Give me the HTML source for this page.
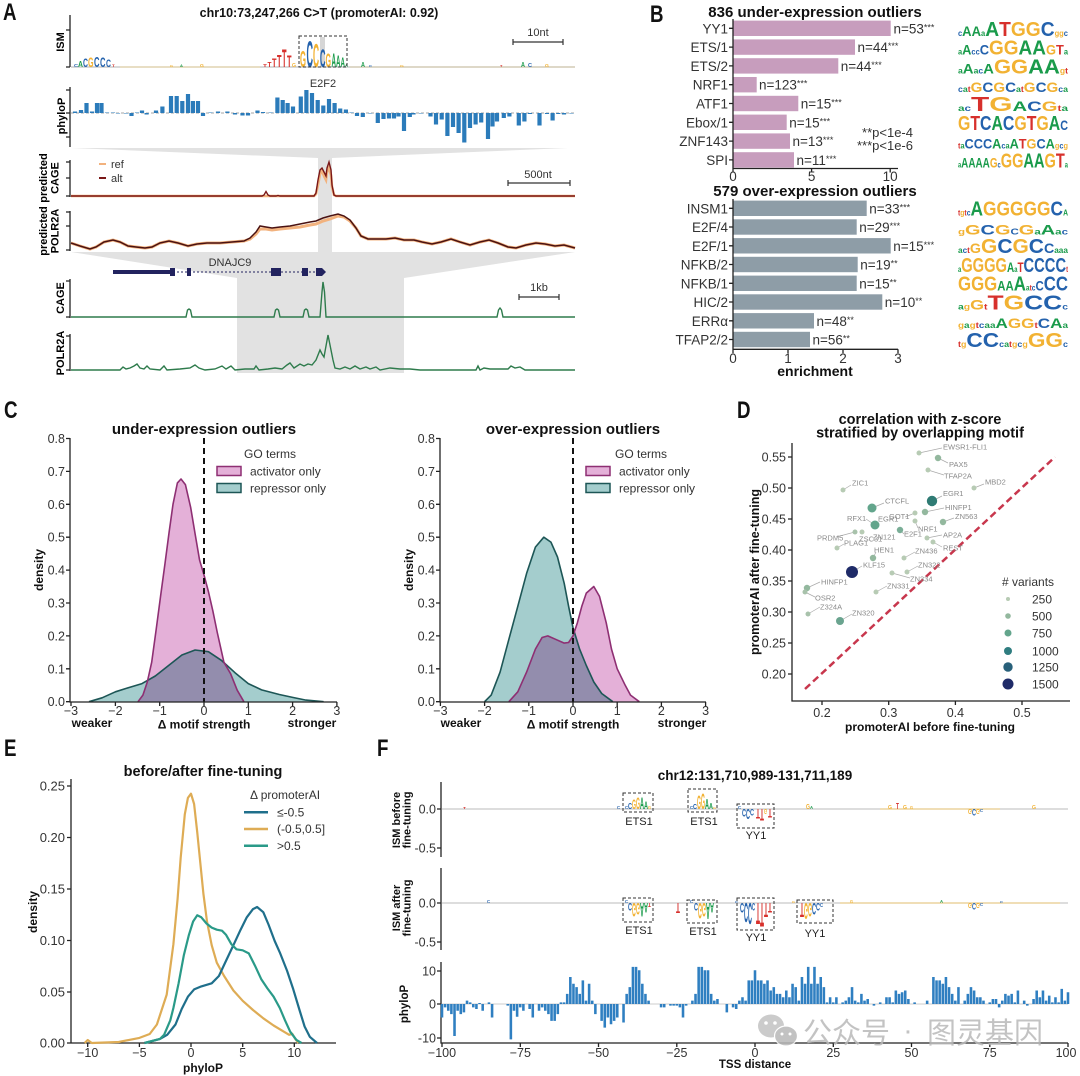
<!DOCTYPE html>
<html><head><meta charset="utf-8">
<style>
html,body{margin:0;padding:0;background:#fff;}
svg{display:block;font-family:"Liberation Sans",Arial,sans-serif;}
.b{font-weight:700}
.lg{font-size:10px;font-weight:700}
.A{fill:#1a9b4b}.C{fill:#2462ad}.G{fill:#f2b233}.T{fill:#d7302c}
.s{font-size:5.5px}.m{font-size:9.5px}.L{font-size:14px}
.ax{stroke:#222;stroke-width:1.3;fill:none}
.bl{font-size:13.5px;fill:#333}
.dl{font-size:7.5px;fill:#8a8a8a}
.ln{stroke:#aaa;stroke-width:0.7}
.mb{mix-blend-mode:multiply}
</style></head><body>
<svg width="1080" height="1076" viewBox="0 0 1080 1076" xmlns="http://www.w3.org/2000/svg">
<rect width="1080" height="1076" fill="#fff"/>

<!-- panel letters -->
<g class="b" font-size="24" fill="#111">
<text transform="translate(3,20) scale(0.78,1)">A</text>
<text transform="translate(650,22) scale(0.78,1)">B</text>
<text transform="translate(4,418) scale(0.78,1)">C</text>
<text transform="translate(737,418) scale(0.78,1)">D</text>
<text transform="translate(4,756) scale(0.78,1)">E</text>
<text transform="translate(377,756) scale(0.78,1)">F</text>
</g>

<!-- ================= PANEL A ================= -->
<text x="319" y="17" text-anchor="middle" class="b" font-size="12.5" fill="#111">chr10:73,247,266 C&gt;T (promoterAI: 0.92)</text>

<!-- grey funnels -->
<polygon points="71,148 568,148 332,158 318,158" fill="#e2e2e2"/>
<rect x="318" y="157" width="14" height="95" fill="#e2e2e2"/>
<polygon points="71,252 575,252 404,278 237,278" fill="#e2e2e2"/>
<rect x="237" y="277" width="167" height="96" fill="#e2e2e2"/>

<!-- ISM track -->
<rect x="320" y="37" width="5" height="30" fill="#d6d6d6"/>
<line x1="71" y1="67" x2="575" y2="67" stroke="#b0b0b0" stroke-width="1"/>
<g stroke-width="1.2">
<line x1="120" y1="67" x2="260" y2="67" stroke="#d9c9a0"/>
<line x1="350" y1="67" x2="575" y2="67" stroke="#c9c0a8"/>
</g>
<path class="ax" d="M70 15V67M66 30H70M66 67H70"/>
<text transform="translate(64,42) rotate(-90)" text-anchor="middle" class="b" font-size="11">ISM</text>
<g class="lg">
<text class="C" transform="translate(74,67) scale(0.55,0.41)">C</text>
<text class="A" transform="translate(78,67) scale(0.69,0.82)">A</text>
<text class="C" transform="translate(83,67) scale(0.69,1.23)">C</text>
<text class="G" transform="translate(88,67) scale(0.71,1.37)">G</text>
<text class="C" transform="translate(94,67) scale(0.76,1.51)">C</text>
<text class="C" transform="translate(100,67) scale(0.76,1.37)">C</text>
<text class="C" transform="translate(106,67) scale(0.69,1.1)">C</text>
<text class="T" transform="translate(112,67) scale(0.45,0.35)">T</text>
<text class="T" transform="translate(263,67) scale(0.65,0.41)">T</text>
<text class="T" transform="translate(267.5,67) scale(0.65,0.69)">T</text>
<text class="T" transform="translate(272,67) scale(0.74,1.23)">T</text>
<text class="T" transform="translate(277,67) scale(0.74,1.78)">T</text>
<text class="T" transform="translate(282,67) scale(0.74,2.47)">T</text>
<text class="T" transform="translate(287,67) scale(0.74,1.65)">T</text>
<text class="G" transform="translate(292,67) scale(0.51,0.55)">G</text>
<text class="G" transform="translate(300,67) scale(0.77,2.33)">G</text>
<text class="C" transform="translate(306.5,67) scale(0.9,3.7)">C</text>
<text class="G" transform="translate(313,67) scale(0.84,3.29)">C</text>
<text class="C" transform="translate(320,67) scale(0.76,2.47)">C</text>
<text class="G" transform="translate(325.5,67) scale(0.71,1.92)">G</text>
<text class="A" transform="translate(331.5,67) scale(0.62,1.92)">A</text>
<text class="A" transform="translate(336,67) scale(0.62,1.65)">A</text>
<text class="A" transform="translate(340.5,67) scale(0.62,1.37)">A</text>
<text class="A" transform="translate(345,67) scale(0.42,0.41)">A</text>
<text class="A" transform="translate(361,67) scale(0.55,0.69)">A</text>
<text class="C" transform="translate(369,67) scale(0.42,0.3)">C</text>
<text class="A" transform="translate(521,67) scale(0.55,0.69)">A</text>
<text class="C" transform="translate(528,67) scale(0.55,0.55)">C</text>
<text class="G" transform="translate(170,67) scale(0.4,0.3)">G</text>
<text class="A" transform="translate(180,67) scale(0.4,0.4)">A</text>
<text class="G" transform="translate(200,67) scale(0.5,0.45)">G</text>
<text class="G" transform="translate(400,67) scale(0.5,0.3)">G</text>
<text class="T" transform="translate(500,67) scale(0.4,0.3)">T</text>
<text class="G" transform="translate(545,67) scale(0.5,0.45)">G</text>
</g>
<rect x="299" y="36" width="48" height="31" fill="none" stroke="#333" stroke-width="1" stroke-dasharray="3,2"/>
<text x="323" y="87" text-anchor="middle" font-size="11" fill="#333">E2F2</text>
<path d="M513 42H563M513 39V45M563 39V45" stroke="#333" stroke-width="1.2" fill="none"/>
<text x="538" y="36" text-anchor="middle" font-size="11" fill="#333">10nt</text>

<!-- phyloP track A -->
<line x1="71" y1="113" x2="575" y2="113" stroke="#888" stroke-width="0.8" stroke-dasharray="3,2"/>
<path class="ax" d="M70 87V147M66 90H70M66 113H70M66 137H70"/>
<text transform="translate(65,116) rotate(-90)" text-anchor="middle" class="b" font-size="11">phyloP</text>
<path stroke="#2b7bba" stroke-width="4.2" fill="none" d="M75 113v-1.5M81 113v-3M86.5 113v-10M92 113v-1.5M97 113v-10M101.5 113v-10M107 113v-0.5M113 113v-0.5M118 113v0.5M126 113v0.5M131.5 113v3M137 113v-0.5M142 113v-2.5M146.6 113v1.5M156 113v-2.5M162.4 113v-6.5M171 113v-17M176.7 113v-17M182.3 113v-12M188 113v-19M192.9 113v-12M198 113v-12M203 113v3M210.5 113v-0.5M218 113v-1.5M227.4 113v-1.5M235 113v1.5M242.5 113v2.5M248 113v2.5M257.5 113v-2.5M263 113v-1M270.7 113v-0.5M277.4 113v-15.5M282.7 113v-13M287.6 113v-10M293 113v-6.5M300.8 113v-16.5M306.4 113v-23M312 113v-20M317.7 113v-13M323.3 113v-7.5M329 113v-14M334.6 113v-10M340.2 113v-4.5M345.9 113v-3.5M351.5 113v-0.5M357 113v3M362.8 113v4M370.3 113v0.5M377.8 113v10M383.5 113v6M389 113v5.5M394 113v5.5M398.5 113v3.5M404 113v18M409.8 113v4M413.5 113v1.5M421 113v0.5M430.5 113v3.5M436 113v11.5M441.7 113v6.5M447.4 113v23M453 113v14M458.6 113v20M464.3 113v29.5M470 113v15M475.6 113v11.5M481.2 113v9.5M488 113v26M492.5 113v13.5M497 113v8.5M503.8 113v5M509.4 113v3.5M518.8 113v12.5M524.4 113v8.5M530 113v1M539.5 113v12.5M547 113v1M552.6 113v7.5M558.3 113v1M564 113v1.5M571.4 113v0.5"/>

<!-- predicted CAGE -->
<path class="ax" d="M70 160V197M66 162H70M66 178H70M66 196H70"/>
<text transform="translate(47,178) rotate(-90)" text-anchor="middle" class="b" font-size="11">predicted</text>
<text transform="translate(58.5,178) rotate(-90)" text-anchor="middle" class="b" font-size="11">CAGE</text>
<path d="M71 196H314L316 194L318 185L320 174L322 171L324 176L326 180L327 172L329 168L331 175L332 187L334 195L336 196H575" stroke="#f2b27e" stroke-width="2.6" fill="none"/>
<path d="M71 196H262L264 195L266 191.5L268 195L270 196H276L278 195.5L280 196H314L316 193L318 180L320 170L322 168L324 172L326 176L327 168L329 162L331 170L332 185L334 195L336 196H575" stroke="#7a1717" stroke-width="1.4" fill="none"/>
<line x1="99" y1="164" x2="106" y2="164" stroke="#f2b27e" stroke-width="2"/>
<line x1="99" y1="178" x2="106" y2="178" stroke="#7a1717" stroke-width="2"/>
<text x="111" y="168" font-size="11" fill="#333">ref</text>
<text x="111" y="182" font-size="11" fill="#333">alt</text>
<path d="M508 183H570M508 180V186M570 180V186" stroke="#333" stroke-width="1.2" fill="none"/>
<text x="538" y="178" text-anchor="middle" font-size="11" fill="#333">500nt</text>

<!-- predicted POLR2A -->
<path class="ax" d="M70 211V251M66 212H70M66 226H70M66 250H70"/>
<text transform="translate(47,231) rotate(-90)" text-anchor="middle" class="b" font-size="11">predicted</text>
<text transform="translate(58.5,231) rotate(-90)" text-anchor="middle" class="b" font-size="11">POLR2A</text>
<path d="M71 243L80 246L90 249L96 247L104 242L113 240L120 242L128 246L136 247L145 248L152 247L160 243L169 241L178 243L188 246L197 244L207 243L220 243L232 242L244 241L250 239L256 234L260 229L266 229L272 230L280 229L290 228L300 227L310 225L316 224L323 221L330 219L338 216L344 217L350 221L356 228L361 236L368 239L376 239L386 239L395 238L404 240L414 240L422 242L432 244L441 242L451 239L460 242L470 245L480 242L489 240L498 243L508 247L516 248L526 245L536 243L545 244L555 246L564 245L575 248" stroke="#f2b27e" stroke-width="3" fill="none"/>
<path d="M71 243L80 246L90 249L96 247L104 242L113 240L120 242L128 246L136 247L145 248L152 247L160 243L169 241L178 243L188 246L197 244L207 243L220 243L232 242L244 241L250 238L256 232L260 226L266 227L272 228L280 227L290 226L300 224L310 222L316 221L323 218L330 216L338 214L344 216L350 220L356 228L361 236L368 239L376 239L386 239L395 238L404 240L414 240L422 242L432 244L441 242L451 239L460 242L470 245L480 242L489 240L498 243L508 247L516 248L526 245L536 243L545 244L555 246L564 245L575 248" stroke="#4a1212" stroke-width="1.5" fill="none"/>

<!-- gene -->
<line x1="113" y1="272" x2="323" y2="272" stroke="#22235f" stroke-width="1" stroke-dasharray="2,2"/>
<g fill="#22235f">
<rect x="113" y="270" width="58" height="4"/>
<rect x="170" y="268" width="5" height="8"/>
<rect x="187" y="268" width="4" height="8"/>
<rect x="271" y="268" width="10" height="8"/>
<rect x="302" y="268" width="6" height="8"/>
<rect x="316" y="268" width="6" height="8"/>
<polygon points="322,268 326,272 322,276"/>
</g>
<text x="230" y="266" text-anchor="middle" font-size="11" fill="#333">DNAJC9</text>

<!-- CAGE -->
<path class="ax" d="M70 279V318M66 281H70M66 317H70"/>
<text transform="translate(64,298) rotate(-90)" text-anchor="middle" class="b" font-size="11">CAGE</text>
<path d="M71 317H186L187.5 310L189 309L190.5 310L192 317H274L275.5 310L277 309L278.5 310L280 317H303L304.5 310L306 309L307.5 310L309 317H320L322 292L323 282L324.5 292L326 317H497L498.5 310L500 308L501.5 310L503 317H575" stroke="#2e7b4c" stroke-width="1.4" fill="none"/>
<path d="M519 297H559M519 294V300M559 294V300" stroke="#333" stroke-width="1.2" fill="none"/>
<text x="539" y="291" text-anchor="middle" font-size="11" fill="#333">1kb</text>

<!-- POLR2A -->
<path class="ax" d="M70 334V371M66 336H70M66 370H70"/>
<text transform="translate(64,353) rotate(-90)" text-anchor="middle" class="b" font-size="11">POLR2A</text>
<path d="M71 370L120 370L123 367L126 369L130 368L134 366L137 364L140 368L144 369L147 366L150 369L160 370L164 366L167 370L180 369L190 368L195 365L199 368L205 370L215 369L222 366L226 369L231 366L235 370L245 369L254 369L256 366L259 370L268 369L275 368L282 369L287 365L290 363L294 368L300 364L304 366L308 364L312 365L316 360L320 350L322 354L324 357L326 346L328 335L330 345L333 360L335 368L340 369L345 367L350 369L355 366L360 369L366 367L370 369L376 367L380 370L390 368L400 369L410 369L420 370L476 370L478 366L480 370L484 368L490 369L508 369L511 366L515 368L520 367L525 370L575 370" stroke="#2e7b4c" stroke-width="1.4" fill="none"/>

<!-- ================= PANEL B ================= -->
<text x="815" y="17" text-anchor="middle" class="b" font-size="15" fill="#111">836 under-expression outliers</text>
<g fill="#c79dbd">
<rect x="733" y="20.6" width="157.7" height="15.4"/>
<rect x="733" y="39.4" width="122" height="15.4"/>
<rect x="733" y="58.2" width="105.3" height="15.4"/>
<rect x="733" y="77" width="23.7" height="15.4"/>
<rect x="733" y="95.8" width="65.3" height="15.4"/>
<rect x="733" y="114.6" width="53.7" height="15.4"/>
<rect x="733" y="133.4" width="57" height="15.4"/>
<rect x="733" y="152.2" width="61" height="15.4"/>
</g>
<path class="ax" d="M733 19V168.5H898M729 28.3H733M729 47.1H733M729 65.9H733M729 84.7H733M729 103.5H733M729 122.3H733M729 141.1H733M729 159.9H733M733 168.5V172.5M811.6 168.5V172.5M890.2 168.5V172.5"/>
<g class="bl" text-anchor="end">
<text x="728" y="33.3">YY1</text>
<text x="728" y="52.1">ETS/1</text>
<text x="728" y="70.9">ETS/2</text>
<text x="728" y="89.7">NRF1</text>
<text x="728" y="108.5">ATF1</text>
<text x="728" y="127.3">Ebox/1</text>
<text x="728" y="146.1">ZNF143</text>
<text x="728" y="164.9">SPI</text>
</g>
<g class="bl">
<text x="893.5" y="33.3">n=53<tspan font-size="9" dy="-3">***</tspan></text>
<text x="857.5" y="52.1">n=44<tspan font-size="9" dy="-3">***</tspan></text>
<text x="840.8" y="70.9">n=44<tspan font-size="9" dy="-3">***</tspan></text>
<text x="759" y="89.7">n=123<tspan font-size="9" dy="-3">***</tspan></text>
<text x="800.8" y="108.5">n=15<tspan font-size="9" dy="-3">***</tspan></text>
<text x="789.2" y="127.3">n=15<tspan font-size="9" dy="-3">***</tspan></text>
<text x="792.5" y="146.1">n=13<tspan font-size="9" dy="-3">***</tspan></text>
<text x="796.5" y="164.9">n=11<tspan font-size="9" dy="-3">***</tspan></text>
</g>
<g class="bl" text-anchor="middle">
<text x="733" y="181">0</text><text x="811.6" y="181">5</text><text x="890.2" y="181">10</text>
</g>
<text x="913" y="137" text-anchor="end" font-size="13" fill="#333">**p&lt;1e-4</text>
<text x="913" y="150" text-anchor="end" font-size="13" fill="#333">***p&lt;1e-6</text>

<text x="815" y="196" text-anchor="middle" class="b" font-size="15" fill="#111">579 over-expression outliers</text>
<g fill="#8e9da7">
<rect x="733" y="200.6" width="133.7" height="15.4"/>
<rect x="733" y="219.3" width="123.7" height="15.4"/>
<rect x="733" y="238.1" width="157.7" height="15.4"/>
<rect x="733" y="256.8" width="124.7" height="15.4"/>
<rect x="733" y="275.6" width="123.7" height="15.4"/>
<rect x="733" y="294.3" width="149.3" height="15.4"/>
<rect x="733" y="313.1" width="81" height="15.4"/>
<rect x="733" y="331.8" width="77" height="15.4"/>
</g>
<path class="ax" d="M733 199V349.3H898M729 208.3H733M729 227H733M729 245.8H733M729 264.5H733M729 283.3H733M729 302H733M729 320.8H733M729 339.5H733M733 349.3V353.3M788 349.3V353.3M843 349.3V353.3M898 349.3V353.3"/>
<g class="bl" text-anchor="end">
<text x="728" y="213.3">INSM1</text>
<text x="728" y="232">E2F/4</text>
<text x="728" y="250.8">E2F/1</text>
<text x="728" y="269.5">NFKB/2</text>
<text x="728" y="288.3">NFKB/1</text>
<text x="728" y="307">HIC/2</text>
<text x="728" y="325.8">ERRα</text>
<text x="728" y="344.5">TFAP2/2</text>
</g>
<g class="bl">
<text x="869.2" y="213.3">n=33<tspan font-size="9" dy="-3">***</tspan></text>
<text x="859.2" y="232">n=29<tspan font-size="9" dy="-3">***</tspan></text>
<text x="893.2" y="250.8">n=15<tspan font-size="9" dy="-3">***</tspan></text>
<text x="860.2" y="269.5">n=19<tspan font-size="9" dy="-3">**</tspan></text>
<text x="859.2" y="288.3">n=15<tspan font-size="9" dy="-3">**</tspan></text>
<text x="884.8" y="307">n=10<tspan font-size="9" dy="-3">**</tspan></text>
<text x="816.5" y="325.8">n=48<tspan font-size="9" dy="-3">**</tspan></text>
<text x="812.5" y="344.5">n=56<tspan font-size="9" dy="-3">**</tspan></text>
</g>
<g class="bl" text-anchor="middle">
<text x="733" y="363">0</text><text x="788" y="363">1</text><text x="843" y="363">2</text><text x="898" y="363">3</text>
</g>
<text x="815" y="376" text-anchor="middle" class="b" font-size="14" fill="#111">enrichment</text>

<!-- B logos -->
<g font-weight="700">
<text transform="translate(958,35.8) scale(1,1.45)" textLength="110" lengthAdjust="spacingAndGlyphs"><tspan class="C s">c</tspan><tspan class="A m">A</tspan><tspan class="A m">A</tspan><tspan class="A s">a</tspan><tspan class="A L">A</tspan><tspan class="T L">T</tspan><tspan class="G L">G</tspan><tspan class="G L">G</tspan><tspan class="C L">C</tspan><tspan class="G s">g</tspan><tspan class="G s">g</tspan><tspan class="C s">c</tspan></text>
<text transform="translate(958,54.6) scale(1,1.45)" textLength="110" lengthAdjust="spacingAndGlyphs"><tspan class="A s">a</tspan><tspan class="A m">A</tspan><tspan class="C s">c</tspan><tspan class="C s">c</tspan><tspan class="C m">C</tspan><tspan class="G L">G</tspan><tspan class="G L">G</tspan><tspan class="A L">A</tspan><tspan class="A L">A</tspan><tspan class="G m">G</tspan><tspan class="T m">T</tspan><tspan class="A s">a</tspan></text>
<text transform="translate(958,73.4) scale(1,1.45)" textLength="110" lengthAdjust="spacingAndGlyphs"><tspan class="A s">a</tspan><tspan class="A m">A</tspan><tspan class="A s">a</tspan><tspan class="C s">c</tspan><tspan class="A m">A</tspan><tspan class="G L">G</tspan><tspan class="G L">G</tspan><tspan class="A L">A</tspan><tspan class="A L">A</tspan><tspan class="G s">g</tspan><tspan class="T s">t</tspan></text>
<text transform="translate(958,92.2) scale(1,1.45)" textLength="110" lengthAdjust="spacingAndGlyphs"><tspan class="C s">c</tspan><tspan class="A s">a</tspan><tspan class="T s">t</tspan><tspan class="G m">G</tspan><tspan class="C m">C</tspan><tspan class="G m">G</tspan><tspan class="C m">C</tspan><tspan class="A s">a</tspan><tspan class="T s">t</tspan><tspan class="G m">G</tspan><tspan class="C m">C</tspan><tspan class="G m">G</tspan><tspan class="C s">c</tspan><tspan class="A s">a</tspan></text>
<text transform="translate(958,111) scale(1,1.45)" textLength="110" lengthAdjust="spacingAndGlyphs"><tspan class="A s">a</tspan><tspan class="C s">c</tspan><tspan class="T L">T</tspan><tspan class="G L">G</tspan><tspan class="A m">A</tspan><tspan class="C m">C</tspan><tspan class="G m">G</tspan><tspan class="T s">t</tspan><tspan class="A s">a</tspan></text>
<text transform="translate(958,129.8) scale(1,1.45)" textLength="110" lengthAdjust="spacingAndGlyphs"><tspan class="G L">G</tspan><tspan class="T L">T</tspan><tspan class="C L">C</tspan><tspan class="A L">A</tspan><tspan class="C L">C</tspan><tspan class="G L">G</tspan><tspan class="T L">T</tspan><tspan class="G L">G</tspan><tspan class="A L">A</tspan><tspan class="C m">C</tspan></text>
<text transform="translate(958,148.6) scale(1,1.45)" textLength="110" lengthAdjust="spacingAndGlyphs"><tspan class="T s">t</tspan><tspan class="A s">a</tspan><tspan class="C m">C</tspan><tspan class="C m">C</tspan><tspan class="C m">C</tspan><tspan class="A m">A</tspan><tspan class="C s">c</tspan><tspan class="A s">a</tspan><tspan class="A m">A</tspan><tspan class="T m">T</tspan><tspan class="G m">G</tspan><tspan class="C m">C</tspan><tspan class="A m">A</tspan><tspan class="G s">g</tspan><tspan class="C s">c</tspan><tspan class="G s">g</tspan></text>
<text transform="translate(958,167.4) scale(1,1.45)" textLength="110" lengthAdjust="spacingAndGlyphs"><tspan class="A s">a</tspan><tspan class="A m">A</tspan><tspan class="A m">A</tspan><tspan class="A m">A</tspan><tspan class="A m">A</tspan><tspan class="G m">G</tspan><tspan class="C s">c</tspan><tspan class="G L">G</tspan><tspan class="G L">G</tspan><tspan class="A L">A</tspan><tspan class="A L">A</tspan><tspan class="G L">G</tspan><tspan class="T L">T</tspan><tspan class="A s">a</tspan></text>

<text transform="translate(958,215.5) scale(1,1.45)" textLength="110" lengthAdjust="spacingAndGlyphs"><tspan class="T s">t</tspan><tspan class="G s">g</tspan><tspan class="T s">t</tspan><tspan class="C s">c</tspan><tspan class="A L">A</tspan><tspan class="G L">G</tspan><tspan class="G L">G</tspan><tspan class="G L">G</tspan><tspan class="G L">G</tspan><tspan class="G L">G</tspan><tspan class="C L">C</tspan><tspan class="A s">A</tspan></text>
<text transform="translate(958,234.3) scale(1,1.45)" textLength="110" lengthAdjust="spacingAndGlyphs"><tspan class="G s">g</tspan><tspan class="G m">G</tspan><tspan class="C m">C</tspan><tspan class="G m">G</tspan><tspan class="C s">C</tspan><tspan class="G m">G</tspan><tspan class="A s">a</tspan><tspan class="A m">A</tspan><tspan class="A s">a</tspan><tspan class="C s">c</tspan></text>
<text transform="translate(958,253) scale(1,1.45)" textLength="110" lengthAdjust="spacingAndGlyphs"><tspan class="A s">a</tspan><tspan class="C s">c</tspan><tspan class="T s">t</tspan><tspan class="G m">G</tspan><tspan class="G L">G</tspan><tspan class="C L">C</tspan><tspan class="G L">G</tspan><tspan class="C L">C</tspan><tspan class="C m">C</tspan><tspan class="A s">a</tspan><tspan class="A s">a</tspan><tspan class="A s">a</tspan></text>
<text transform="translate(958,271.8) scale(1,1.45)" textLength="110" lengthAdjust="spacingAndGlyphs"><tspan class="A s">a</tspan><tspan class="G L">G</tspan><tspan class="G L">G</tspan><tspan class="G L">G</tspan><tspan class="G L">G</tspan><tspan class="A m">A</tspan><tspan class="A s">a</tspan><tspan class="T m">T</tspan><tspan class="C L">C</tspan><tspan class="C L">C</tspan><tspan class="C L">C</tspan><tspan class="C L">C</tspan><tspan class="T s">t</tspan></text>
<text transform="translate(958,290.5) scale(1,1.45)" textLength="110" lengthAdjust="spacingAndGlyphs"><tspan class="G L">G</tspan><tspan class="G L">G</tspan><tspan class="G L">G</tspan><tspan class="A m">A</tspan><tspan class="A m">A</tspan><tspan class="A L">A</tspan><tspan class="A s">a</tspan><tspan class="T s">t</tspan><tspan class="C s">c</tspan><tspan class="C m">C</tspan><tspan class="C L">C</tspan><tspan class="C L">C</tspan></text>
<text transform="translate(958,309.3) scale(1,1.45)" textLength="110" lengthAdjust="spacingAndGlyphs"><tspan class="A s">a</tspan><tspan class="G s">g</tspan><tspan class="G m">G</tspan><tspan class="T s">t</tspan><tspan class="T L">T</tspan><tspan class="G L">G</tspan><tspan class="C L">C</tspan><tspan class="C L">C</tspan><tspan class="C s">c</tspan></text>
<text transform="translate(958,328) scale(1,1.45)" textLength="110" lengthAdjust="spacingAndGlyphs"><tspan class="G s">g</tspan><tspan class="A s">a</tspan><tspan class="G s">g</tspan><tspan class="T s">t</tspan><tspan class="C s">c</tspan><tspan class="A s">a</tspan><tspan class="A s">a</tspan><tspan class="A m">A</tspan><tspan class="G m">G</tspan><tspan class="G m">G</tspan><tspan class="T s">t</tspan><tspan class="C m">C</tspan><tspan class="A m">A</tspan><tspan class="A s">a</tspan></text>
<text transform="translate(958,346.8) scale(1,1.45)" textLength="110" lengthAdjust="spacingAndGlyphs"><tspan class="T s">t</tspan><tspan class="G s">g</tspan><tspan class="C L">C</tspan><tspan class="C L">C</tspan><tspan class="C s">c</tspan><tspan class="A s">a</tspan><tspan class="T s">t</tspan><tspan class="G s">g</tspan><tspan class="C s">c</tspan><tspan class="G s">g</tspan><tspan class="G L">G</tspan><tspan class="G L">G</tspan><tspan class="C s">c</tspan></text>
</g>

<!-- ================= PANEL C ================= -->
<!-- left -->
<text x="204" y="434" text-anchor="middle" class="b" font-size="15" fill="#111">under-expression outliers</text>
<path class="mb" fill="#a4cdcd" d="M89 701.7L102.1 697.8L115.4 691.8L128.7 687.6L142 683.6L155.3 676L168.6 665.5L181.9 655L195.1 650L208.4 651.7L221.7 660.6L235 672.7L248.3 683.6L261.6 689.9L279.3 694.5L292.6 697.4L305.9 700.1L323.6 701.7Z"/>
<path class="mb" fill="#e4b0d8" d="M138 701.7L142.9 695.1L147.3 682L151.7 662.2L156.2 629.3L160.6 596L165 563.5L169 533L173 504.3L177.4 482.9L181 479L185.4 484.6L190.7 507.6L195.1 533.9L199.6 560.2L204 575L208.4 591.5L212.9 611.2L217.3 632.6L223.9 662.2L230.6 673.7L237.2 690.2L243.9 701.7Z"/>
<path fill="none" stroke="#1d5656" stroke-width="1.6" stroke-linejoin="round" d="M89 701.7L102.1 697.8L115.4 691.8L128.7 687.6L142 683.6L155.3 676L168.6 665.5L181.9 655L195.1 650L208.4 651.7L221.7 660.6L235 672.7L248.3 683.6L261.6 689.9L279.3 694.5L292.6 697.4L305.9 700.1L323.6 701.7"/>
<path fill="none" stroke="#8e2f73" stroke-width="1.6" stroke-linejoin="round" d="M138 701.7L142.9 695.1L147.3 682L151.7 662.2L156.2 629.3L160.6 596L165 563.5L169 533L173 504.3L177.4 482.9L181 479L185.4 484.6L190.7 507.6L195.1 533.9L199.6 560.2L204 575L208.4 591.5L212.9 611.2L217.3 632.6L223.9 662.2L230.6 673.7L237.2 690.2L243.9 701.7"/>
<line x1="204" y1="438" x2="204" y2="702" stroke="#111" stroke-width="2" stroke-dasharray="6,4"/>
<path class="ax" d="M70 438V702H337M66 438.5H70M66 471.4H70M66 504.3H70M66 537.2H70M66 570.1H70M66 603H70M66 635.9H70M66 668.8H70M66 701.7H70M71 702V706M115.4 702V706M159.7 702V706M204 702V706M248.3 702V706M292.6 702V706M336.9 702V706"/>
<g font-size="12.5" fill="#333" text-anchor="end">
<text x="65" y="443">0.8</text><text x="65" y="476">0.7</text><text x="65" y="509">0.6</text><text x="65" y="541.7">0.5</text><text x="65" y="574.6">0.4</text><text x="65" y="607.5">0.3</text><text x="65" y="640.4">0.2</text><text x="65" y="673.3">0.1</text><text x="65" y="706.2">0.0</text>
</g>
<g font-size="12.5" fill="#333" text-anchor="middle">
<text x="71" y="715">−3</text><text x="115.4" y="715">−2</text><text x="159.7" y="715">−1</text><text x="204" y="715">0</text><text x="248.3" y="715">1</text><text x="292.6" y="715">2</text><text x="336.9" y="715">3</text>
</g>
<g class="b" font-size="12" fill="#111" text-anchor="middle">
<text x="92" y="727">weaker</text><text x="204" y="728.5">Δ motif strength</text><text x="312" y="727">stronger</text>
</g>
<text transform="translate(43,570) rotate(-90)" text-anchor="middle" class="b" font-size="12" fill="#111">density</text>
<text x="270" y="458" text-anchor="middle" font-size="12" fill="#333">GO terms</text>
<rect x="217" y="466.5" width="24" height="9" fill="#e4b0d8" stroke="#8e2f73" stroke-width="1.5"/>
<rect x="217" y="483.5" width="24" height="9" fill="#a4cdcd" stroke="#1d5656" stroke-width="1.5"/>
<text x="250" y="475.5" font-size="12" fill="#333">activator only</text>
<text x="250" y="492.5" font-size="12" fill="#333">repressor only</text>

<!-- right -->
<text x="573" y="434" text-anchor="middle" class="b" font-size="15" fill="#111">over-expression outliers</text>
<path class="mb" fill="#a4cdcd" d="M484.6 701.7L491.2 695.1L500.1 672.1L508.9 639.2L517.8 606.3L526.6 573.4L535.4 547.1L543.8 537.2L550.9 542.1L557.5 557L564.2 583.3L568.6 606.3L573 627.7L579.6 649.1L586.3 665.5L593.8 682L601.7 693.5L612.8 701.7Z"/>
<path class="mb" fill="#e4b0d8" d="M508.9 701.7L517.8 691.8L526.6 672.1L535.4 649.1L542.1 637.5L547.8 635.9L555.3 639.2L564.2 643.1L568.6 642.5L573 635.9L577.4 622.7L581.8 606.3L586.3 593.1L593.8 586.5L599.5 596.4L606.2 622.7L611.5 649.1L617.2 668.8L625.2 685.3L630.5 695.1L639.3 701.7Z"/>
<path fill="none" stroke="#1d5656" stroke-width="1.6" stroke-linejoin="round" d="M484.6 701.7L491.2 695.1L500.1 672.1L508.9 639.2L517.8 606.3L526.6 573.4L535.4 547.1L543.8 537.2L550.9 542.1L557.5 557L564.2 583.3L568.6 606.3L573 627.7L579.6 649.1L586.3 665.5L593.8 682L601.7 693.5L612.8 701.7"/>
<path fill="none" stroke="#8e2f73" stroke-width="1.6" stroke-linejoin="round" d="M508.9 701.7L517.8 691.8L526.6 672.1L535.4 649.1L542.1 637.5L547.8 635.9L555.3 639.2L564.2 643.1L568.6 642.5L573 635.9L577.4 622.7L581.8 606.3L586.3 593.1L593.8 586.5L599.5 596.4L606.2 622.7L611.5 649.1L617.2 668.8L625.2 685.3L630.5 695.1L639.3 701.7"/>
<line x1="573" y1="438" x2="573" y2="702" stroke="#111" stroke-width="2" stroke-dasharray="6,4"/>
<path class="ax" d="M440 438V702H706M436 438.5H440M436 471.4H440M436 504.3H440M436 537.2H440M436 570.1H440M436 603H440M436 635.9H440M436 668.8H440M436 701.7H440M440.4 702V706M484.6 702V706M528.8 702V706M573 702V706M617.2 702V706M661.4 702V706M705.6 702V706"/>
<g font-size="12.5" fill="#333" text-anchor="end">
<text x="435" y="443">0.8</text><text x="435" y="476">0.7</text><text x="435" y="509">0.6</text><text x="435" y="541.7">0.5</text><text x="435" y="574.6">0.4</text><text x="435" y="607.5">0.3</text><text x="435" y="640.4">0.2</text><text x="435" y="673.3">0.1</text><text x="435" y="706.2">0.0</text>
</g>
<g font-size="12.5" fill="#333" text-anchor="middle">
<text x="440.4" y="715">−3</text><text x="484.6" y="715">−2</text><text x="528.8" y="715">−1</text><text x="573" y="715">0</text><text x="617.2" y="715">1</text><text x="661.4" y="715">2</text><text x="705.6" y="715">3</text>
</g>
<g class="b" font-size="12" fill="#111" text-anchor="middle">
<text x="461" y="727">weaker</text><text x="573" y="728.5">Δ motif strength</text><text x="682" y="727">stronger</text>
</g>
<text transform="translate(413,570) rotate(-90)" text-anchor="middle" class="b" font-size="12" fill="#111">density</text>
<text x="641" y="458" text-anchor="middle" font-size="12" fill="#333">GO terms</text>
<rect x="586" y="466.5" width="24" height="9" fill="#e4b0d8" stroke="#8e2f73" stroke-width="1.5"/>
<rect x="586" y="483.5" width="24" height="9" fill="#a4cdcd" stroke="#1d5656" stroke-width="1.5"/>
<text x="619" y="475.5" font-size="12" fill="#333">activator only</text>
<text x="619" y="492.5" font-size="12" fill="#333">repressor only</text>

<!-- ================= PANEL D ================= -->
<text x="920" y="424" text-anchor="middle" class="b" font-size="14.5" fill="#111">correlation with z-score</text>
<text x="920" y="437.5" text-anchor="middle" class="b" font-size="14.5" fill="#111">stratified by overlapping motif</text>
<path class="ax" d="M792 443V701H1070M788 457H792M788 488H792M788 519H792M788 550H792M788 581H792M788 612H792M788 643H792M788 674H792M822 701V705M888.7 701V705M955.4 701V705M1022 701V705"/>
<g font-size="12.5" fill="#333" text-anchor="end">
<text x="786" y="461.5">0.55</text><text x="786" y="492.5">0.50</text><text x="786" y="523.5">0.45</text><text x="786" y="554.5">0.40</text><text x="786" y="585.5">0.35</text><text x="786" y="616.5">0.30</text><text x="786" y="647.5">0.25</text><text x="786" y="678.5">0.20</text>
</g>
<g font-size="12.5" fill="#333" text-anchor="middle">
<text x="822" y="717">0.2</text><text x="888.7" y="717">0.3</text><text x="955.4" y="717">0.4</text><text x="1022" y="717">0.5</text>
</g>
<text x="930" y="731" text-anchor="middle" class="b" font-size="12" fill="#111">promoterAI before fine-tuning</text>
<text transform="translate(759,572) rotate(-90)" text-anchor="middle" class="b" font-size="12.5" fill="#111">promoterAI after fine-tuning</text>
<line x1="805" y1="689" x2="1055" y2="457" stroke="#c8374d" stroke-width="2.5" stroke-dasharray="7,4"/>
<!-- leader lines -->
<g class="ln">
<line x1="919" y1="453" x2="942" y2="448"/>
<line x1="938" y1="458" x2="948" y2="463"/>
<line x1="928" y1="470" x2="944" y2="475"/>
<line x1="843" y1="490" x2="851" y2="485"/>
<line x1="974" y1="488" x2="984" y2="484"/>
<line x1="932" y1="501" x2="942" y2="496"/>
<line x1="872" y1="508" x2="884" y2="503"/>
<line x1="925" y1="512" x2="944" y2="508"/>
<line x1="915" y1="513" x2="905" y2="517"/>
<line x1="943" y1="522" x2="954" y2="518"/>
<line x1="875" y1="525" x2="866" y2="519"/>
<line x1="915" y1="521" x2="918" y2="528"/>
<line x1="900" y1="530" x2="904" y2="534"/>
<line x1="855" y1="532" x2="836" y2="537"/>
<line x1="927" y1="538" x2="942" y2="535"/>
<line x1="933" y1="542" x2="942" y2="547"/>
<line x1="837" y1="548" x2="844" y2="544"/>
<line x1="873" y1="558" x2="876" y2="552"/>
<line x1="904" y1="558" x2="915" y2="552"/>
<line x1="852" y1="572" x2="862" y2="566"/>
<line x1="907" y1="572" x2="918" y2="566"/>
<line x1="892" y1="573" x2="910" y2="578"/>
<line x1="876" y1="592" x2="887" y2="586"/>
<line x1="807" y1="588" x2="820" y2="582"/>
<line x1="805" y1="592" x2="815" y2="597"/>
<line x1="808" y1="614" x2="820" y2="607"/>
<line x1="840" y1="621" x2="852" y2="614"/>
</g>
<g class="dl">
<text x="943" y="449.5">EWSR1-FLI1</text>
<text x="949" y="467">PAX5</text>
<text x="944" y="478.5">TFAP2A</text>
<text x="852" y="485.5">ZIC1</text>
<text x="985" y="484.5">MBD2</text>
<text x="943" y="496">EGR1</text>
<text x="885" y="503.5">CTCFL</text>
<text x="945" y="510">HINFP1</text>
<text x="889" y="519">GOT1</text>
<text x="955" y="519">ZN563</text>
<text x="847" y="521">RFX1</text>
<text x="878" y="521.5">EGR1</text>
<text x="918" y="531.5">NRF1</text>
<text x="904" y="536.5">E2F1</text>
<text x="817" y="540.5">PRDM5</text>
<text x="873" y="539.5">ZN121</text>
<text x="859" y="541.5">ZSC31</text>
<text x="943" y="537.5">AP2A</text>
<text x="943" y="550.5">REST</text>
<text x="844" y="545.5">PLAG1</text>
<text x="874" y="552.5">HEN1</text>
<text x="915" y="553.5">ZN436</text>
<text x="863" y="567.5">KLF15</text>
<text x="918" y="567.5">ZN322</text>
<text x="910" y="581.5">ZN334</text>
<text x="887" y="588.5">ZN331</text>
<text x="821" y="584.5">HINFP1</text>
<text x="815" y="600.5">OSR2</text>
<text x="820" y="609.5">Z324A</text>
<text x="852" y="615.5">ZN320</text>
</g>
<g>
<circle cx="919" cy="453" r="2.5" fill="#b7cbb4"/>
<circle cx="938" cy="458" r="3.2" fill="#93b89e"/>
<circle cx="928" cy="470" r="2.5" fill="#b7cbb4"/>
<circle cx="843" cy="490" r="2.5" fill="#b7cbb4"/>
<circle cx="974" cy="488" r="2.5" fill="#b7cbb4"/>
<circle cx="932" cy="501" r="5.2" fill="#2f7b74"/>
<circle cx="872" cy="508" r="4.5" fill="#63a58c"/>
<circle cx="925" cy="512" r="3.2" fill="#93b89e"/>
<circle cx="915" cy="513" r="2.5" fill="#b7cbb4"/>
<circle cx="943" cy="522" r="3.2" fill="#93b89e"/>
<circle cx="875" cy="525" r="4.5" fill="#63a58c"/>
<circle cx="915" cy="521" r="2.5" fill="#b7cbb4"/>
<circle cx="900" cy="530" r="3.2" fill="#7aae97"/>
<circle cx="855" cy="532" r="2.5" fill="#a8c2ab"/>
<circle cx="862" cy="532" r="2.5" fill="#b7cbb4"/>
<circle cx="927" cy="538" r="2.5" fill="#b7cbb4"/>
<circle cx="933" cy="542" r="2.5" fill="#b7cbb4"/>
<circle cx="837" cy="548" r="2.5" fill="#b7cbb4"/>
<circle cx="873" cy="558" r="3.2" fill="#93b89e"/>
<circle cx="904" cy="558" r="2.5" fill="#b7cbb4"/>
<circle cx="852" cy="572" r="6" fill="#1f2b68"/>
<circle cx="907" cy="572" r="2.5" fill="#b7cbb4"/>
<circle cx="892" cy="573" r="2.5" fill="#b7cbb4"/>
<circle cx="876" cy="592" r="2.5" fill="#b7cbb4"/>
<circle cx="807" cy="588" r="3.2" fill="#93b89e"/>
<circle cx="805" cy="592" r="2.5" fill="#a8c2ab"/>
<circle cx="808" cy="614" r="2.5" fill="#a8c2ab"/>
<circle cx="840" cy="621" r="4" fill="#6aa48f"/>
</g>
<text x="1002" y="586" font-size="12" fill="#333"># variants</text>
<circle cx="1008" cy="599" r="2" fill="#b7cbb4"/>
<circle cx="1008" cy="616" r="2.8" fill="#93b89e"/>
<circle cx="1008" cy="633" r="3.5" fill="#63a58c"/>
<circle cx="1008" cy="651" r="4" fill="#2f7d80"/>
<circle cx="1008" cy="667" r="4.7" fill="#28607a"/>
<circle cx="1008" cy="684" r="5.5" fill="#1f2b68"/>
<g font-size="12" fill="#333">
<text x="1032" y="603.5">250</text><text x="1032" y="620.5">500</text><text x="1032" y="637.5">750</text><text x="1032" y="655.5">1000</text><text x="1032" y="671.5">1250</text><text x="1032" y="688.5">1500</text>
</g>

<!-- ================= PANEL E ================= -->
<text x="203" y="776" text-anchor="middle" class="b" font-size="14.5" fill="#111">before/after fine-tuning</text>
<path class="ax" d="M71 779V1043H336M67 786H71M67 837.5H71M67 889H71M67 940.5H71M67 992H71M67 1043H71M87.7 1043V1047M139.4 1043V1047M191 1043V1047M242.7 1043V1047M294.3 1043V1047"/>
<g font-size="13" fill="#333" text-anchor="end">
<text x="65" y="790.5">0.25</text><text x="65" y="842">0.20</text><text x="65" y="893.5">0.15</text><text x="65" y="945">0.10</text><text x="65" y="996.5">0.05</text><text x="65" y="1047.5">0.00</text>
</g>
<g font-size="12.5" fill="#333" text-anchor="middle">
<text x="87.7" y="1057">−10</text><text x="139.4" y="1057">−5</text><text x="191" y="1057">0</text><text x="242.7" y="1057">5</text><text x="294.3" y="1057">10</text>
</g>
<text x="203" y="1072" text-anchor="middle" class="b" font-size="12" fill="#111">phyloP</text>
<text transform="translate(37,912) rotate(-90)" text-anchor="middle" class="b" font-size="12" fill="#111">density</text>
<path fill="none" stroke="#deac55" stroke-width="2.2" stroke-linejoin="round" d="M84.6 1043L87.7 1040L91.8 1043L118.7 1042L139.4 1037.9L149.7 1034L156.9 1024.5L166.7 994.6L173.4 944.1L177.6 898.8L180.7 857.6L184.8 814.3L187.9 797.9L191 793.7L194.1 804L197.2 831.9L200.3 862.8L203.4 893.7L207 921.5L211.7 945.2L216.8 962.7L224.1 976L233.4 990.5L242.7 1000.8L253 1010L263.3 1018.3L273.6 1025.5L283.9 1031.7L289.1 1034.8L292.2 1033.7L295.3 1038.9L298.4 1043"/>
<path fill="none" stroke="#1f6f8b" stroke-width="2.2" stroke-linejoin="round" d="M144.5 1043L160 1038.9L167.2 1034.8L175.5 1024.5L181.7 1009L187.9 996.7L194.1 989.4L201.3 986.4L211.7 983.3L218.9 976L226.1 960.6L233.4 945.2L240.6 929.7L246.8 917.3L253 909.1L257.1 907L263.3 912.2L268.5 924.5L274.7 941L279.8 952.4L287.1 970.9L293.3 989.4L299.5 1010L304.6 1026.5L309.8 1036.8L317 1043"/>
<path fill="none" stroke="#2a9a88" stroke-width="2.2" stroke-linejoin="round" d="M144.5 1043L160 1038.9L164.1 1034.8L170.3 1020.3L173.4 1008L178.6 983.3L183.8 955.4L188.9 934.9L193.1 921.5L197.2 915.3L201.3 917.3L206.5 923.5L211.7 927.6L216.8 929.7L222 930.7L226.1 934.9L231.3 944.1L236.5 949.3L242.7 950.3L248.8 953.4L255 965.7L261.2 979.1L267.4 988.4L273.6 996.7L279.8 1008L285 1020.3L290.2 1031.7L296.4 1039.9L301.5 1043"/>
<text x="250" y="799" font-size="12" fill="#333">Δ promoterAI</text>
<line x1="244" y1="812.3" x2="268" y2="812.3" stroke="#1f6f8b" stroke-width="2.5"/>
<line x1="244" y1="829" x2="268" y2="829" stroke="#deac55" stroke-width="2.5"/>
<line x1="244" y1="845.7" x2="268" y2="845.7" stroke="#2a9a88" stroke-width="2.5"/>
<g font-size="12" fill="#333">
<text x="277" y="816.5">≤-0.5</text><text x="277" y="833">(-0.5,0.5]</text><text x="277" y="850">&gt;0.5</text>
</g>

<!-- ================= PANEL F ================= -->
<text x="755" y="780" text-anchor="middle" class="b" font-size="13.5" fill="#111">chr12:131,710,989-131,711,189</text>
<!-- ISM before -->
<line x1="442" y1="809" x2="1068" y2="809" stroke="#bbb" stroke-width="0.9"/>
<line x1="880" y1="809" x2="1000" y2="809" stroke="#e7c98a" stroke-width="1.2"/>
<path class="ax" d="M441 782V857M437 809H441M437 848H441"/>
<g font-size="12.5" fill="#333" text-anchor="end"><text x="436" y="813.5">0.0</text><text x="436" y="852.5">-0.5</text></g>
<text transform="translate(400,820) rotate(-90)" text-anchor="middle" class="b" font-size="11" fill="#111">ISM before</text>
<text transform="translate(410.5,820) rotate(-90)" text-anchor="middle" class="b" font-size="11" fill="#111">fine-tuning</text>
<g class="lg">
<text class="T" transform="translate(463,809) scale(0.49,0.27)">T</text>
<text class="C" transform="translate(617,809) scale(0.42,0.41)">C</text>
<text class="C" transform="translate(625,809) scale(0.42,0.41)">C</text>
<text class="C" transform="translate(628,809) scale(0.55,0.82)">C</text>
<text class="G" transform="translate(632,809) scale(0.51,1.37)">G</text>
<text class="G" transform="translate(636,809) scale(0.51,1.65)">G</text>
<text class="A" transform="translate(640,809) scale(0.55,1.65)">A</text>
<text class="A" transform="translate(644,809) scale(0.55,1.1)">A</text>
<text class="G" transform="translate(648,809) scale(0.39,0.41)">G</text>
<text class="C" transform="translate(690,809) scale(0.42,0.41)">C</text>
<text class="C" transform="translate(693,809) scale(0.55,0.69)">C</text>
<text class="G" transform="translate(697,809) scale(0.51,1.92)">G</text>
<text class="G" transform="translate(701,809) scale(0.51,2.19)">G</text>
<text class="A" transform="translate(705,809) scale(0.55,1.51)">A</text>
<text class="A" transform="translate(709,809) scale(0.55,0.82)">A</text>
<text class="G" transform="translate(713,809) scale(0.39,0.27)">G</text>
<text class="C" transform="translate(738,809) scale(0.42,0.41)">C</text>
<text class="C" transform="translate(742,809) scale(0.55,-1.1)">C</text>
<text class="C" transform="translate(746,809) scale(0.55,-1.51)">C</text>
<text class="C" transform="translate(750,809) scale(0.55,-0.96)">C</text>
<text class="T" transform="translate(756,809) scale(0.65,-1.37)">T</text>
<text class="T" transform="translate(760,809) scale(0.65,-1.65)">T</text>
<text class="G" transform="translate(764,809) scale(0.39,-0.69)">G</text>
<text class="T" transform="translate(768,809) scale(0.65,-1.23)">T</text>
<text class="G" transform="translate(806,809) scale(0.51,0.69)">G</text>
<text class="A" transform="translate(810,809) scale(0.42,0.41)">A</text>
<text class="G" transform="translate(888,809) scale(0.51,0.55)">G</text>
<text class="T" transform="translate(896,809) scale(0.49,0.82)">T</text>
<text class="G" transform="translate(903,809) scale(0.51,0.55)">G</text>
<text class="G" transform="translate(910,809) scale(0.39,0.41)">G</text>
<text class="G" transform="translate(968,809) scale(0.51,-0.69)">G</text>
<text class="C" transform="translate(972,809) scale(0.55,-0.96)">C</text>
<text class="G" transform="translate(976,809) scale(0.51,-0.69)">G</text>
<text class="C" transform="translate(980,809) scale(0.42,-0.41)">C</text>
<text class="G" transform="translate(1032,809) scale(0.51,0.55)">G</text>
</g>
<g fill="none" stroke="#333" stroke-width="1" stroke-dasharray="3,2">
<rect x="623" y="793" width="30" height="19"/>
<rect x="688" y="789" width="29" height="23"/>
<rect x="737" y="804" width="37" height="24"/>
</g>
<g font-size="11" fill="#222" text-anchor="middle">
<text x="639" y="825">ETS1</text><text x="704" y="825">ETS1</text><text x="756" y="839">YY1</text>
</g>

<!-- ISM after -->
<line x1="442" y1="903" x2="1068" y2="903" stroke="#bbb" stroke-width="0.9"/>
<line x1="840" y1="903" x2="1060" y2="903" stroke="#e7c98a" stroke-width="1.2"/>
<path class="ax" d="M441 868V950M437 903H441M437 942H441"/>
<g font-size="12.5" fill="#333" text-anchor="end"><text x="436" y="907.5">0.0</text><text x="436" y="946.5">-0.5</text></g>
<text transform="translate(400,908) rotate(-90)" text-anchor="middle" class="b" font-size="11" fill="#111">ISM after</text>
<text transform="translate(410.5,908) rotate(-90)" text-anchor="middle" class="b" font-size="11" fill="#111">fine-tuning</text>
<g class="lg">
<text class="C" transform="translate(487,903) scale(0.42,0.41)">C</text>
<text class="C" transform="translate(625,903) scale(0.42,0.41)">C</text>
<text class="C" transform="translate(628,903) scale(0.55,-1.1)">C</text>
<text class="G" transform="translate(632,903) scale(0.51,-1.92)">G</text>
<text class="G" transform="translate(636,903) scale(0.51,-1.65)">G</text>
<text class="A" transform="translate(640,903) scale(0.55,-1.92)">A</text>
<text class="A" transform="translate(644,903) scale(0.55,-1.37)">A</text>
<text class="T" transform="translate(648,903) scale(0.49,-0.55)">T</text>
<text class="T" transform="translate(676,903) scale(0.65,-1.51)">T</text>
<text class="C" transform="translate(690,903) scale(0.42,0.41)">C</text>
<text class="C" transform="translate(694,903) scale(0.55,-1.1)">C</text>
<text class="G" transform="translate(698,903) scale(0.51,-2.19)">G</text>
<text class="G" transform="translate(702,903) scale(0.51,-1.92)">G</text>
<text class="A" transform="translate(706,903) scale(0.55,-2.33)">A</text>
<text class="A" transform="translate(710,903) scale(0.55,-1.37)">A</text>
<text class="C" transform="translate(735,903) scale(0.42,0.27)">C</text>
<text class="C" transform="translate(740,903) scale(0.55,-1.37)">C</text>
<text class="C" transform="translate(744,903) scale(0.55,-2.74)">C</text>
<text class="C" transform="translate(748,903) scale(0.55,-3.02)">C</text>
<text class="C" transform="translate(752,903) scale(0.42,-1.1)">C</text>
<text class="T" transform="translate(756,903) scale(0.65,-3.02)">T</text>
<text class="T" transform="translate(760,903) scale(0.65,-3.43)">T</text>
<text class="T" transform="translate(764,903) scale(0.65,-2.06)">T</text>
<text class="T" transform="translate(768,903) scale(0.65,-1.37)">T</text>
<text class="G" transform="translate(792,903) scale(0.39,0.27)">G</text>
<text class="T" transform="translate(800,903) scale(0.65,-2.06)">T</text>
<text class="G" transform="translate(804,903) scale(0.51,-2.33)">G</text>
<text class="G" transform="translate(808,903) scale(0.51,-1.92)">G</text>
<text class="C" transform="translate(812,903) scale(0.55,-1.65)">C</text>
<text class="C" transform="translate(816,903) scale(0.55,-1.1)">C</text>
<text class="C" transform="translate(820,903) scale(0.42,-0.55)">C</text>
<text class="G" transform="translate(850,903) scale(0.39,0.41)">G</text>
<text class="A" transform="translate(940,903) scale(0.42,0.41)">A</text>
<text class="G" transform="translate(968,903) scale(0.51,-0.69)">G</text>
<text class="C" transform="translate(972,903) scale(0.55,-0.96)">C</text>
<text class="G" transform="translate(976,903) scale(0.51,-0.69)">G</text>
<text class="C" transform="translate(980,903) scale(0.42,-0.41)">C</text>
<text class="C" transform="translate(1000,903) scale(0.42,0.27)">C</text>
</g>
<g fill="none" stroke="#333" stroke-width="1" stroke-dasharray="3,2">
<rect x="623" y="898" width="30" height="24"/>
<rect x="687" y="900" width="30" height="23"/>
<rect x="737" y="898" width="37" height="32"/>
<rect x="797" y="900" width="36" height="23"/>
</g>
<g font-size="11" fill="#222" text-anchor="middle">
<text x="639" y="934">ETS1</text><text x="703" y="935">ETS1</text><text x="756" y="941">YY1</text><text x="815" y="937">YY1</text>
</g>

<!-- phyloP F -->
<path class="ax" d="M441 962V1043H1068M437 971H441M437 1004H441M437 1038H441M442 1043V1047M520.3 1043V1047M598.5 1043V1047M676.8 1043V1047M755 1043V1047M833.3 1043V1047M911.5 1043V1047M989.8 1043V1047M1068 1043V1047"/>
<g font-size="12.5" fill="#333" text-anchor="end"><text x="436" y="975.5">10</text><text x="436" y="1008.5">0</text><text x="436" y="1042.5">-10</text></g>
<text transform="translate(408,1004) rotate(-90)" text-anchor="middle" class="b" font-size="11.5" fill="#111">phyloP</text>
<line x1="442" y1="1004" x2="1068" y2="1004" stroke="#999" stroke-width="0.6"/>
<g transform="translate(442,1004) scale(3.13,-3.37)">
<path stroke="#2f7fc1" stroke-width="0.82" fill="none" d="M0 0V-4M1 0V-1M2 0V-2M3 0V-3M4 0V-9.5M5 0V-2M6 0V-3M7 0V-2.5M8 0V1M9 0V0.5M10 0V-1M11 0V-1.5M12 0V0.3M13 0V-2M15 0V0.5M16 0V-4M21 0V-0.5M22 0V-10.5M23 0V-2M24 0V-3.8M25 0V-1M26 0V-2M28 0V-1.5M29 0V-4M31 0V-2M32 0V-1M33 0V-2M34 0V-3M35 0V-5M36 0V-5M37 0V-3M38 0V0.5M39 0V0.5M40 0V3M41 0V8M42 0V6M43 0V5M44 0V3M45 0V7M46 0V1M47 0V6M48 0V1M49 0V-3M51 0V-5M52 0V-7M53 0V-4M54 0V-6M55 0V-5M56 0V-4M58 0V-5.5M59 0V3M60 0V5M61 0V11M62 0V11M63 0V10M64 0V6M65 0V3M66 0V1M70 0V-1M71 0V-1M73 0V-0.5M74 0V-0.5M75 0V-0.5M76 0V-1M77 0V-4M78 0V-0.5M80 0V1M81 0V3M82 0V11M83 0V11M84 0V10M85 0V10M86 0V3M87 0V1M88 0V1.5M91 0V-2.5M93 0V-1M94 0V-1.5M95 0V1M96 0V2M97 0V1M98 0V7M99 0V7M100 0V10M101 0V7M102 0V7M103 0V6M104 0V7M105 0V4M106 0V5M107 0V3M108 0V3M109 0V2M110 0V4M111 0V2M112 0V6M113 0V5M114 0V1M115 0V8M116 0V6M117 0V11M118 0V6M119 0V11M120 0V6M121 0V8M122 0V5M123 0V0.5M124 0V2M125 0V0.5M126 0V2M128 0V0.5M129 0V1M130 0V2M131 0V5M132 0V1M133 0V0.5M134 0V3M135 0V1M136 0V1.5M138 0V-0.5M140 0V0.5M142 0V2M143 0V2M144 0V0.5M145 0V4M146 0V3M147 0V3.5M148 0V4M149 0V1.5M151 0V0.5M155 0V1M157 0V8M158 0V7M159 0V7M160 0V6M161 0V8M162 0V5M163 0V3M164 0V1M165 0V5M167 0V1M168 0V3M169 0V5M170 0V4M171 0V2M172 0V2M173 0V1M175 0V0.5M176 0V1.5M177 0V1.5M178 0V-1M179 0V1M180 0V3M181 0V2.5M182 0V3M183 0V0.5M184 0V4M186 0V1M187 0V-0.5M189 0V1.5M190 0V4M191 0V2M192 0V4M193 0V1M194 0V2.5M195 0V0.5M196 0V2M197 0V0.5M198 0V4.5M199 0V1M200 0V3.5"/>
</g>
<g font-size="12.5" fill="#333" text-anchor="middle">
<text x="442" y="1057">−100</text><text x="520.3" y="1057">−75</text><text x="598.5" y="1057">−50</text><text x="676.8" y="1057">−25</text><text x="755" y="1057">0</text><text x="833.3" y="1057">25</text><text x="911.5" y="1057">50</text><text x="989.8" y="1057">75</text><text x="1066" y="1057">100</text>
</g>
<text x="755" y="1068" text-anchor="middle" class="b" font-size="11.5" fill="#111">TSS distance</text>

<!-- watermark -->
<g opacity="0.85">
<ellipse cx="771" cy="1026" rx="13" ry="11.5" fill="#c2c2c2"/>
<ellipse cx="786" cy="1036" rx="11.5" ry="10" fill="#b8b8b8" stroke="#fff" stroke-width="1.2"/>
<circle cx="766" cy="1023" r="1.8" fill="#fff"/><circle cx="775" cy="1023" r="1.8" fill="#fff"/>
<circle cx="782" cy="1034" r="1.5" fill="#fff"/><circle cx="790" cy="1034" r="1.5" fill="#fff"/>
<text x="803" y="1043" font-size="29" fill="#b9b9b9" font-family="'Liberation Sans','Noto Sans CJK SC',sans-serif">公众号</text>
<text x="908" y="1040" font-size="29" fill="#b9b9b9" text-anchor="middle" font-family="'Liberation Sans','Noto Sans CJK SC',sans-serif">·</text>
<text x="927" y="1043" font-size="29" fill="#b9b9b9" font-family="'Liberation Sans','Noto Sans CJK SC',sans-serif">图灵基因</text>
</g>
</svg>
</body></html>
